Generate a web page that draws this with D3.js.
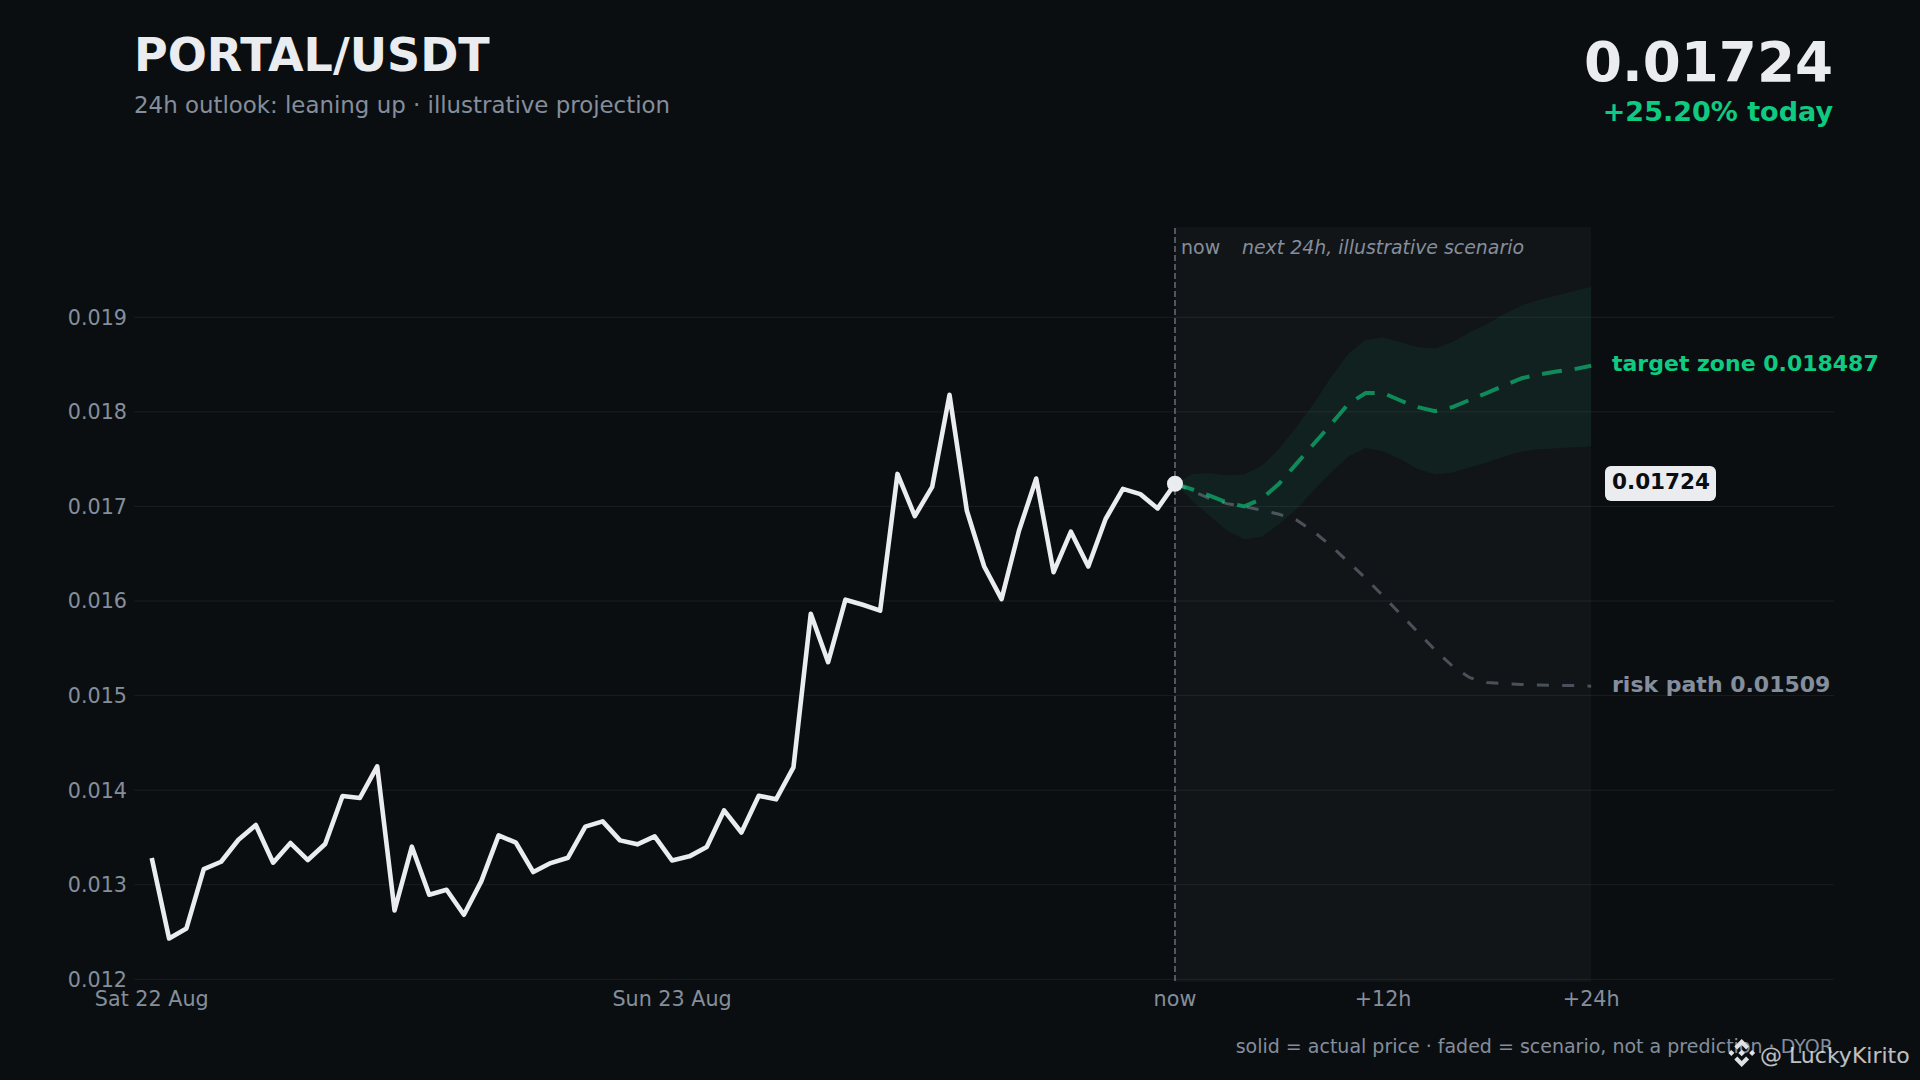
<!DOCTYPE html>
<html>
<head>
<meta charset="utf-8">
<script src="https://cdn.jsdelivr.net/npm/d3@7"></script>
<style>
  html, body { margin: 0; background: #0b0e11; }
  svg { display: block; }
  text { font-family: "DejaVu Sans", sans-serif; }
</style>
</head>
<body>
<svg id="chart" width="1920" height="1080"></svg>
<script>
// price history, hourly, last value is "now" (in thousandths)
const priceHistory = [
  13.282, 12.432, 12.538, 13.166, 13.243, 13.476, 13.631, 13.233, 13.441, 13.261,
  13.430, 13.938, 13.917, 14.252, 12.728, 13.402, 12.894, 12.947, 12.683, 13.035,
  13.522, 13.444, 13.134, 13.229, 13.286, 13.614, 13.670, 13.469, 13.427, 13.511,
  13.257, 13.300, 13.400, 13.786, 13.552, 13.941, 13.903, 14.240, 15.865, 15.354,
  16.014, 15.960, 15.898, 17.344, 16.898, 17.207, 18.180, 16.954, 16.365, 16.020,
  16.740, 17.295, 16.305, 16.733, 16.365, 16.867, 17.186, 17.130, 16.979, 17.240
];
// scenario, hour 0 to hour 24 after now
const targetPath = [
  17.24, 17.18, 17.115, 17.04, 17.00, 17.08, 17.24, 17.45, 17.66, 17.87, 18.085, 18.20, 18.20,
  18.12, 18.05, 18.007, 18.05, 18.127, 18.20, 18.28, 18.356, 18.395, 18.427, 18.45, 18.487
];
const bandUpper = [
  17.24, 17.344, 17.35, 17.33, 17.337, 17.43, 17.61, 17.84, 18.085, 18.367, 18.614, 18.762, 18.787,
  18.737, 18.684, 18.674, 18.737, 18.843, 18.93, 19.037, 19.125, 19.185, 19.23, 19.277, 19.32
];
const bandLower = [
  17.24, 17.06, 16.90, 16.745, 16.65, 16.68, 16.815, 16.97, 17.17, 17.36, 17.527, 17.62, 17.584,
  17.50, 17.397, 17.337, 17.36, 17.414, 17.467, 17.527, 17.584, 17.605, 17.615, 17.626, 17.637
];
const riskPath = [
  17.24, 17.164, 17.083, 17.03, 16.998, 16.96, 16.917, 16.857, 16.734, 16.582, 16.413, 16.24, 16.053,
  15.862, 15.672, 15.481, 15.312, 15.189, 15.139, 15.125, 15.118, 15.111, 15.108, 15.106, 15.10
];
const yTicks = [12, 13, 14, 15, 16, 17, 18, 19];
const xTickHours = [-59, -29, 0, 12, 24];
const xTickLabels = ["Sat 22 Aug", "Sun 23 Aug", "now", "+12h", "+24h"];

const GREEN = "#0ecb81", TEXT = "#eaecef", MUTED = "#848e9c", BG = "#0b0e11";

const svg = d3.select("#chart");

// hours relative to now -> px
const x = d3.scaleLinear().domain([-60, 38]).range([134.4, 1834]);
// price in thousandths -> px
const y = d3.scaleLinear().domain([12, 19]).range([979.3, 317.3]);

// grid
svg.append("g").selectAll("line")
  .data(yTicks)
  .join("line")
  .attr("x1", x.range()[0]).attr("x2", x.range()[1])
  .attr("y1", d => y(d)).attr("y2", d => y(d))
  .attr("stroke", "#1a1e23").attr("stroke-width", 1);

// y tick labels
svg.append("g").selectAll("text")
  .data(yTicks)
  .join("text")
  .attr("x", 127).attr("y", d => y(d))
  .attr("dy", "0.36em").attr("text-anchor", "end")
  .attr("font-size", 20.7).attr("fill", MUTED)
  .text(d => (d / 1000).toFixed(3));

// x tick labels
svg.append("g").selectAll("text")
  .data(xTickHours)
  .join("text")
  .attr("x", d => x(d)).attr("y", 1006)
  .attr("text-anchor", "middle")
  .attr("font-size", 20.7).attr("fill", MUTED)
  .text((d, i) => xTickLabels[i]);

// scenario window
svg.append("rect")
  .attr("x", x(0)).attr("y", 227)
  .attr("width", x(24) - x(0)).attr("height", 755)
  .attr("fill", "#ffffff").attr("opacity", 0.03);

// target zone band
const hours = d3.range(25);
svg.append("path")
  .datum(hours)
  .attr("fill", GREEN).attr("opacity", 0.07)
  .attr("d", d3.area().x(d => x(d)).y0(d => y(bandLower[d])).y1(d => y(bandUpper[d])));

// now marker
svg.append("line")
  .attr("x1", x(0)).attr("x2", x(0)).attr("y1", 228).attr("y2", 982)
  .attr("stroke", MUTED).attr("stroke-opacity", 0.75).attr("stroke-width", 1.5)
  .attr("stroke-dasharray", "6 3");

const line = d3.line().x((d, i) => x(i)).y(d => y(d));

svg.append("path").datum(riskPath)
  .attr("fill", "none").attr("stroke", MUTED).attr("stroke-opacity", 0.5)
  .attr("stroke-width", 3).attr("stroke-dasharray", "12 13.3")
  .attr("d", line);

svg.append("path").datum(targetPath)
  .attr("fill", "none").attr("stroke", GREEN).attr("stroke-opacity", 0.62)
  .attr("stroke-width", 4).attr("stroke-dasharray", "20 12.9")
  .attr("d", line);

// actual price
svg.append("path").datum(priceHistory)
  .attr("fill", "none").attr("stroke", TEXT).attr("stroke-width", 4.6)
  .attr("stroke-linejoin", "round").attr("stroke-linecap", "butt")
  .attr("d", d3.line().x((d, i) => x(i - 59)).y(d => y(d)));

svg.append("circle")
  .attr("cx", x(0)).attr("cy", y(priceHistory[59])).attr("r", 8)
  .attr("fill", TEXT);

// header
function label(px, py, str, size, fill, opts = {}) {
  return svg.append("text")
    .attr("x", px).attr("y", py)
    .attr("font-size", size).attr("fill", fill)
    .attr("font-weight", opts.weight || "normal")
    .attr("font-style", opts.style || "normal")
    .attr("text-anchor", opts.anchor || "start")
    .text(str);
}

label(134, 71, "PORTAL/USDT", 46, TEXT, { weight: "bold" });
label(134, 113, "24h outlook: leaning up · illustrative projection", 22.9, MUTED);
label(1833, 81, "0.01724", 54.7, TEXT, { weight: "bold", anchor: "end" });
label(1833, 121, "+25.20% today", 27, GREEN, { weight: "bold", anchor: "end" });

// window captions
label(1181, 254, "now", 19, MUTED);
label(1242, 254, "next 24h, illustrative scenario", 18.9, MUTED, { style: "italic" });

// end labels
label(1612, 371, "target zone 0.018487", 22, GREEN, { weight: "bold" });
label(1612, 692, "risk path 0.01509", 22, MUTED, { weight: "bold" });

svg.append("rect")
  .attr("x", 1605).attr("y", 466).attr("width", 111).attr("height", 35).attr("rx", 6)
  .attr("fill", TEXT);
label(1612, 489, "0.01724", 21.5, BG, { weight: "bold" });

// footer
label(1833, 1053, "solid = actual price · faded = scenario, not a prediction · DYOR", 19, MUTED, { anchor: "end" });

// watermark
const logo = svg.append("g").attr("transform", "translate(1741.7,1053)").attr("fill", "#dfe1e5");
[
  "M0 -14L7.4 -6.6L4.4 -3.6L0 -8L-4.4 -3.6L-7.4 -6.6Z",
  "M0 14L7.4 6.6L4.4 3.6L0 8L-4.4 3.6L-7.4 6.6Z",
  "M0 -3.3L3.3 0L0 3.3L-3.3 0Z",
  "M-10.4 -3L-7.4 0L-10.4 3L-13.4 0Z",
  "M10.4 -3L13.4 0L10.4 3L7.4 0Z"
].forEach(d => logo.append("path").attr("d", d));
label(1760, 1063, "@ LuckyKirito", 22, "#eaecef").attr("opacity", 0.8);
</script>
</body>
</html>
